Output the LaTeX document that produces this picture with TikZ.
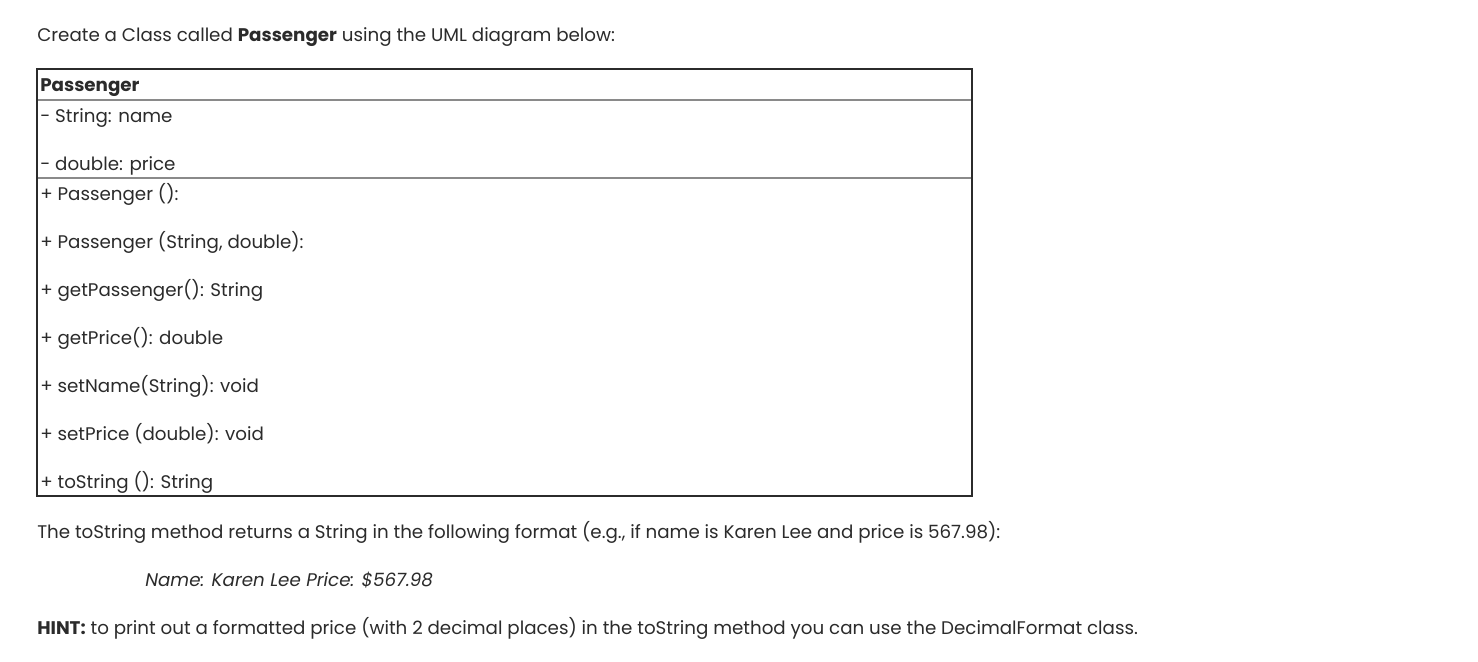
\documentclass[tikz,border=0pt]{standalone}
\usepackage{fontspec}
\setmainfont{Poppins}
\usepackage{tikz}
\definecolor{ink}{HTML}{2B2B2B}
\definecolor{rule}{HTML}{8A8A8A}
\tikzset{txt/.style={anchor=base west, inner sep=0pt, text=ink, font=\fontsize{13.7}{16}\selectfont}}

\begin{document}
\begin{tikzpicture}[x=0.75pt, y=-0.75pt]
        \useasboundingbox[fill=white] (0,0) rectangle (1478,661);

        \node (title) [txt] at (37,41) {Create a Class called \textbf{Passenger} using the UML diagram below:};

        % class box
        \node (tl) [coordinate] at (37,69) {};
        \node (br) [coordinate] at (972,496) {};
        \draw[rule, line width=0.9pt] (37,100) -- (972,100);
        \draw[rule, line width=0.9pt] (37,178) -- (972,178);
        \draw[ink, line width=0.9pt] (tl) rectangle (br);

        \node (cname) [txt] at (40,91) {\textbf{Passenger}};
        \node (attr1) [txt] at (40,122) {- String: name};
        \node (attr2) [txt] at (40,170) {- double: price};
        \node (m1) [txt] at (40,200) {+ Passenger ():};
        \node (m2) [txt] at (40,248) {+ Passenger (String, double):};
        \node (m3) [txt] at (40,296) {+ getPassenger(): String};
        \node (m4) [txt] at (40,344) {+ getPrice(): double};
        \node (m5) [txt] at (40,392) {+ setName(String): void};
        \node (m6) [txt] at (40,440) {+ setPrice (double): void};
        \node (m7) [txt] at (40,488) {+ toString (): String};

        \node (fmt) [txt] at (37,538) {The toString method returns a String in the following format (e.g., if name is Karen Lee and price is 567.98):};
        \node (example) [txt, font=\fontsize{13.7}{16}\selectfont\itshape] at (145,586) {Name: Karen Lee Price: \$567.98};
        \node (hint) [txt] at (37,634) {\textbf{HINT:} to print out a formatted price (with 2 decimal places) in the toString method you can use the DecimalFormat class.};
    \end{tikzpicture}
\end{document}
